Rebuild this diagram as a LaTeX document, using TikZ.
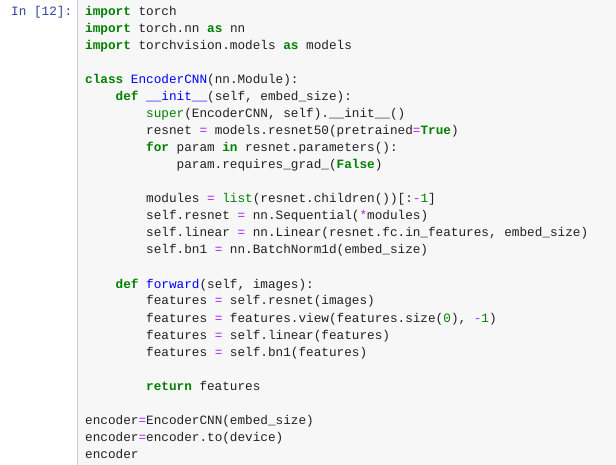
\documentclass[tikz,border=0pt]{standalone}
\usepackage{fontspec}
\newfontfamily\cmono{Liberation Mono}
\definecolor{kwc}{HTML}{008000}
\definecolor{opc}{HTML}{AA22FF}
\definecolor{clc}{HTML}{0000FF}
\definecolor{txc}{HTML}{212121}
\definecolor{pr}{HTML}{303F9F}
\newcommand{\kw}[1]{\textcolor{kwc}{\textbf{#1}}}
\newcommand{\bi}[1]{\textcolor{kwc}{#1}}
\newcommand{\opx}[1]{\textcolor{opc}{#1}}
\newcommand{\cl}[1]{\textcolor{clc}{#1}}
\begin{document}
\begin{tikzpicture}[x=1pt,y=1pt,
  code/.style={anchor=base west,inner sep=0pt,font=\cmono\fontsize{12.7}{12.7}\selectfont,text=txc}]
\useasboundingbox (0,0) rectangle (616,-465);
\fill[white] (0,0) rectangle (616,-465);
\draw[draw=black!19,fill=black!3] (77.5,2) rectangle (620,-470);
\node[code,text=pr] (prompt) at (11,-16) {In [12]:};
\def\L#1#2#3{\node[code] (l#1) at ({85+7.62*#2},{-16-17*#1}) {#3};}
\L{0}{0}{\kw{import} torch}
\L{1}{0}{\kw{import} torch.nn \kw{as} nn}
\L{2}{0}{\kw{import} torchvision.models \kw{as} models}
\L{4}{0}{\kw{class} \cl{EncoderCNN}(nn.Module):}
\L{5}{4}{\kw{def} \cl{\_\_init\_\_}(self, embed\_size):}
\L{6}{8}{\bi{super}(EncoderCNN, self).\_\_init\_\_()}
\L{7}{8}{resnet \opx{=} models.resnet50(pretrained\opx{=}\kw{True})}
\L{8}{8}{\kw{for} param \kw{in} resnet.parameters():}
\L{9}{12}{param.requires\_grad\_(\kw{False})}
\L{11}{8}{modules \opx{=} \bi{list}(resnet.children())[:\opx{-}\bi{1}]}
\L{12}{8}{self.resnet \opx{=} nn.Sequential(\opx{*}modules)}
\L{13}{8}{self.linear \opx{=} nn.Linear(resnet.fc.in\_features, embed\_size)}
\L{14}{8}{self.bn1 \opx{=} nn.BatchNorm1d(embed\_size)}
\L{16}{4}{\kw{def} \cl{forward}(self, images):}
\L{17}{8}{features \opx{=} self.resnet(images)}
\L{18}{8}{features \opx{=} features.view(features.size(\bi{0}), \opx{-}\bi{1})}
\L{19}{8}{features \opx{=} self.linear(features)}
\L{20}{8}{features \opx{=} self.bn1(features)}
\L{22}{8}{\kw{return} features}
\L{24}{0}{encoder\opx{=}EncoderCNN(embed\_size)}
\L{25}{0}{encoder\opx{=}encoder.to(device)}
\L{26}{0}{encoder}
\end{tikzpicture}
\end{document}
